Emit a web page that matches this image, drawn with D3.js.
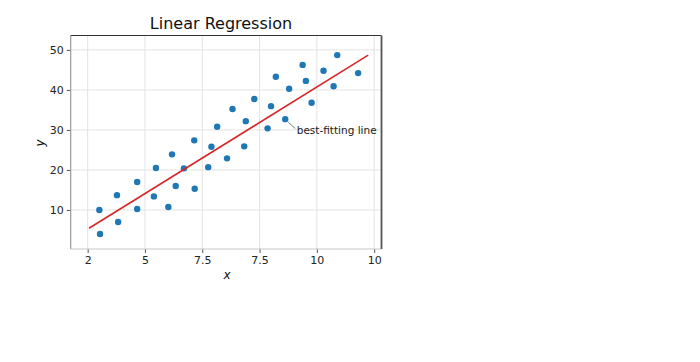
<!DOCTYPE html>
<html>
<head>
<meta charset="utf-8">
<script src="https://cdn.jsdelivr.net/npm/d3@7"></script>
<style>
  html, body { margin: 0; padding: 0; background: #fff; }
  svg { display: block; font-family: "DejaVu Sans", sans-serif; }
</style>
</head>
<body>
<svg id="chart" width="700" height="362"></svg>
<script>
// ---- data ----
const title = "Linear Regression";
const xLabel = "x";
const yLabel = "y";
const annotationText = "best-fitting line";
const xValues = [3.01, 3.04, 3.78, 3.83, 4.66, 4.66, 5.39, 5.48, 6.02, 6.18, 6.34, 6.70, 7.15, 7.17, 7.76, 7.90, 8.15, 8.58, 8.82, 9.33, 9.40, 9.77, 10.35, 10.50, 10.71, 11.12, 11.29, 11.88, 12.02, 12.27, 12.79, 13.23, 13.39, 14.30];
const yValues = [10.0, 4.0, 13.7, 7.0, 17.0, 10.25, 13.4, 20.5, 10.75, 23.9, 16.0, 20.4, 27.4, 15.3, 20.7, 25.8, 30.8, 22.9, 35.25, 25.9, 32.2, 37.75, 30.4, 35.95, 43.3, 32.7, 40.3, 46.25, 42.25, 36.8, 44.8, 40.9, 48.7, 44.2];
const fitX = [2.56, 14.74];
const fitY = [5.43, 48.7];
const annotatedIndex = 25;
const xTickValues = [2.5, 5, 7.5, 10, 12.5, 15];
const xTickLabels = ["2", "5", "7.5", "7.5", "10", "10"];
const yTickValues = [10, 20, 30, 40, 50];
const yTickLabels = ["10", "20", "30", "40", "50"];

(function () {
// ---- layout ----
const svg = d3.select("#chart");
const pL = 70.7, pR = 381.5, pT = 35.5, pB = 249;
const x = d3.scaleLinear().domain([1.76, 15.32]).range([pL, pR]);
const y = d3.scaleLinear().domain([0.25, 53.6]).range([pB, pT]);

// grid
const grid = svg.append("g");
grid.selectAll("line.gx").data(xTickValues).join("line")
  .attr("x1", d => x(d)).attr("x2", d => x(d))
  .attr("y1", pT).attr("y2", pB)
  .attr("stroke", "#e3e3e3").attr("stroke-width", 1);
grid.selectAll("line.gy").data(yTickValues).join("line")
  .attr("x1", pL).attr("x2", pR)
  .attr("y1", d => y(d)).attr("y2", d => y(d))
  .attr("stroke", "#e3e3e3").attr("stroke-width", 1);

// axes
const xAxis = d3.axisBottom(x).tickValues(xTickValues)
  .tickFormat((d, i) => xTickLabels[i]).tickSize(4).tickPadding(3);
const gx = svg.append("g").attr("transform", `translate(0,${pB})`).call(xAxis);
gx.select(".domain").remove();
gx.selectAll(".tick line").attr("stroke", "#555");
gx.selectAll(".tick text").attr("fill", "#222").style("font-size", "11px").style("font-family", "DejaVu Sans");

const yAxis = d3.axisLeft(y).tickValues(yTickValues)
  .tickFormat((d, i) => yTickLabels[i]).tickSize(4).tickPadding(3);
const gy = svg.append("g").attr("transform", `translate(${pL},0)`).call(yAxis);
gy.select(".domain").remove();
gy.selectAll(".tick line").attr("stroke", "#555");
gy.selectAll(".tick text").attr("fill", "#222").style("font-size", "11px").style("font-family", "DejaVu Sans");

// spines
svg.append("line").attr("x1", pL).attr("x2", pL).attr("y1", pT).attr("y2", pB)
  .attr("stroke", "#999").attr("stroke-width", 1.2);
svg.append("line").attr("x1", pL).attr("x2", pR).attr("y1", pB).attr("y2", pB)
  .attr("stroke", "#c8c8c8").attr("stroke-width", 1.2);
svg.append("line").attr("x1", pL).attr("x2", pR).attr("y1", pT).attr("y2", pT)
  .attr("stroke", "#333").attr("stroke-width", 1.2);
svg.append("line").attr("x1", pR).attr("x2", pR).attr("y1", pT).attr("y2", pB)
  .attr("stroke", "#555").attr("stroke-width", 1.8);

// points
const pts = d3.range(xValues.length).map(i => ({x: xValues[i], y: yValues[i]}));
svg.append("g").selectAll("circle").data(pts).join("circle")
  .attr("cx", d => x(d.x)).attr("cy", d => y(d.y)).attr("r", 3.2)
  .attr("fill", "#1f77b4");

// fit line
const fit = fitX.map((v, i) => [v, fitY[i]]);
svg.append("path").datum(fit)
  .attr("d", d3.line().x(d => x(d[0])).y(d => y(d[1])))
  .attr("stroke", "#d62728").attr("stroke-width", 1.6).attr("fill", "none");

// annotation
const ap = pts[annotatedIndex];
const ax = x(ap.x), ay = y(ap.y);
svg.append("line").attr("x1", ax + 3).attr("y1", ay + 3).attr("x2", ax + 10).attr("y2", ay + 9.5)
  .attr("stroke", "#555").attr("stroke-width", 0.8);
svg.append("text").attr("x", ax + 11.5).attr("y", ay + 14.5)
  .attr("fill", "#222").style("font-size", "10.5px").text(annotationText);

// title & labels
svg.append("text").attr("x", 221).attr("y", 28.5).attr("text-anchor", "middle")
  .attr("fill", "#111").style("font-size", "16px").text(title);
svg.append("text").attr("x", 227).attr("y", 279).attr("text-anchor", "middle")
  .attr("fill", "#111").style("font-size", "12px").style("font-style", "italic").text(xLabel);
svg.append("text").attr("transform", `translate(44,143) rotate(-90)`).attr("text-anchor", "middle")
  .attr("fill", "#111").style("font-size", "12px").style("font-style", "italic").text(yLabel);
})();
</script>
</body>
</html>
